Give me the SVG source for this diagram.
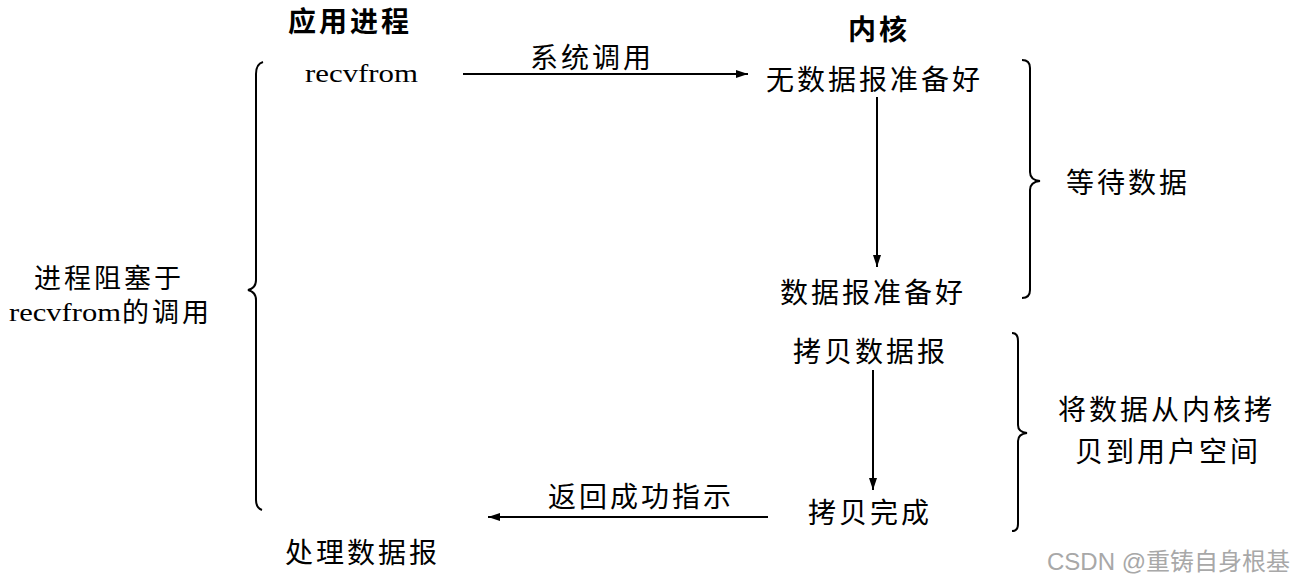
<svg xmlns="http://www.w3.org/2000/svg" width="1300" height="585" viewBox="0 0 1300 585">
<style>
.t{font-family:"Noto Sans CJK SC","Noto Sans",sans-serif;font-size:28px;fill:#000;letter-spacing:3px}
.b{font-weight:bold}
.s{font-family:"Liberation Serif","Noto Sans CJK SC",serif;font-size:25px;fill:#000}
.ln{stroke:#000;stroke-width:2;fill:none}
.br{stroke:#000;stroke-width:2;fill:none}
.wm{font-family:"Liberation Sans","Noto Sans CJK SC",sans-serif;font-size:24px;fill:#a8a8a8}
</style>
<defs>
<marker id="ah" viewBox="0 0 12 8" refX="12" refY="4" markerWidth="12" markerHeight="8" markerUnits="userSpaceOnUse" orient="auto">
<path d="M0,0 L12,4 L0,8 Z" fill="#000"/>
</marker>
</defs>
<rect width="1300" height="585" fill="#fff"/>
<g id="app-title"><text class="t b" x="288" y="32">应用进程</text></g>
<g id="kernel-title"><text class="t b" x="848" y="40">内核</text></g>
<g id="recvfrom"><text class="s" x="305" y="82" textLength="113" lengthAdjust="spacingAndGlyphs">recvfrom</text></g>
<g id="no-datagram"><text class="t" x="766" y="90">无数据报准备好</text></g>
<g id="datagram-ready"><text class="t" x="780" y="303">数据报准备好</text></g>
<g id="copy-datagram"><text class="t" x="793" y="362">拷贝数据报</text></g>
<g id="copy-done"><text class="t" x="808" y="523">拷贝完成</text></g>
<g id="process-datagram"><text class="t" x="285" y="563">处理数据报</text></g>
<g id="wait-data"><text class="t" x="1066" y="193">等待数据</text></g>
<g id="copy-to-user">
<text class="t" x="1058" y="420">将数据从内核拷</text>
<text class="t" x="1075" y="462">贝到用户空间</text>
</g>
<g id="blocked">
<text class="t" x="34" y="288" style="font-size:27px">进程阻塞于</text>
<text class="s" x="9" y="321" textLength="112" lengthAdjust="spacingAndGlyphs">recvfrom</text>
<text class="t" x="122" y="322" style="font-size:27px">的调用</text>
</g>
<g id="braces">
<path class="br" d="M1022,60 Q1030,60 1030,68 L1030,172 Q1030,180 1040,181 Q1030,182 1030,190 L1030,290 Q1030,298 1022,298"/>
<path class="br" d="M1012,333 Q1018,333 1018,341 L1018,425 Q1018,432 1027,433 Q1018,434 1018,441 L1018,524 Q1018,531 1012,531"/>
<path class="br" d="M263,62 Q256,64 256,74 L256,280 Q256,288 248,290 Q256,292 256,300 L256,500 Q256,508 262,510"/>
</g>
<g id="connectors">
<line class="ln" x1="463" y1="74" x2="748" y2="74" marker-end="url(#ah)"/>
<text class="t" x="530" y="68">系统调用</text>
<line class="ln" x1="877" y1="97" x2="877" y2="267" marker-end="url(#ah)"/>
<line class="ln" x1="873" y1="370" x2="873" y2="490" marker-end="url(#ah)"/>
<line class="ln" x1="768" y1="517" x2="488" y2="517" marker-end="url(#ah)"/>
<text class="t" x="548" y="507">返回成功指示</text>
</g>
<text class="wm" x="1047" y="570">CSDN @重铸自身根基</text>
</svg>
